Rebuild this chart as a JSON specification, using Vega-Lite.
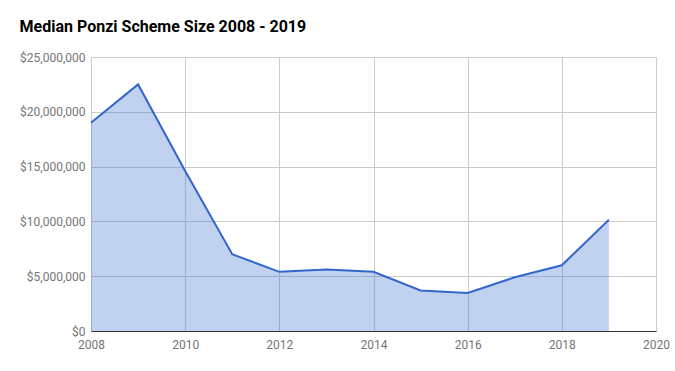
{
  "$schema": "https://vega.github.io/schema/vega-lite/v6.json",
  "width": 565,
  "height": 274,
  "autosize": {"type": "none"},
  "padding": {"left": 91, "top": 57, "right": 19, "bottom": 40},
  "background": "white",
  "title": {
    "text": "Median Ponzi Scheme Size 2008 - 2019",
    "anchor": "start",
    "frame": "bounds",
    "font": "Roboto",
    "fontSize": 16,
    "fontWeight": "bold",
    "color": "#000000",
    "baseline": "alphabetic",
    "offset": 3
  },
  "data": {
    "values": [
      {"year": 2008, "size": 19000000},
      {"year": 2009, "size": 22500000},
      {"year": 2010, "size": 14600000},
      {"year": 2011, "size": 7000000},
      {"year": 2012, "size": 5400000},
      {"year": 2013, "size": 5600000},
      {"year": 2014, "size": 5400000},
      {"year": 2015, "size": 3700000},
      {"year": 2016, "size": 3470000},
      {"year": 2017, "size": 4900000},
      {"year": 2018, "size": 6000000},
      {"year": 2019, "size": 10150000}
    ]
  },
  "encoding": {
    "x": {
      "field": "year",
      "type": "quantitative",
      "scale": {"domain": [2008, 2020], "nice": false, "zero": false},
      "axis": {
        "title": null,
        "values": [2008, 2010, 2012, 2014, 2016, 2018, 2020],
        "format": "d",
        "labelFont": "Roboto",
        "labelFontSize": 12,
        "labelColor": "#757575",
        "labelPadding": 8,
        "ticks": false,
        "domainColor": "#333333",
        "domainWidth": 1,
        "gridColor": "#cccccc",
        "labelFlush": false
      }
    },
    "y": {
      "field": "size",
      "type": "quantitative",
      "scale": {"domain": [0, 25000000], "nice": false},
      "axis": {
        "title": null,
        "values": [0, 5000000, 10000000, 15000000, 20000000, 25000000],
        "format": "$,.0f",
        "labelFont": "Roboto",
        "labelFontSize": 12,
        "labelColor": "#757575",
        "labelPadding": 6,
        "ticks": false,
        "domain": false,
        "gridColor": "#cccccc"
      }
    }
  },
  "layer": [
    {"mark": {"type": "area", "color": "#3366cc", "opacity": 0.3}},
    {"mark": {"type": "line", "color": "#3366cc", "strokeWidth": 2}}
  ],
  "config": {"view": {"stroke": null}}
}
